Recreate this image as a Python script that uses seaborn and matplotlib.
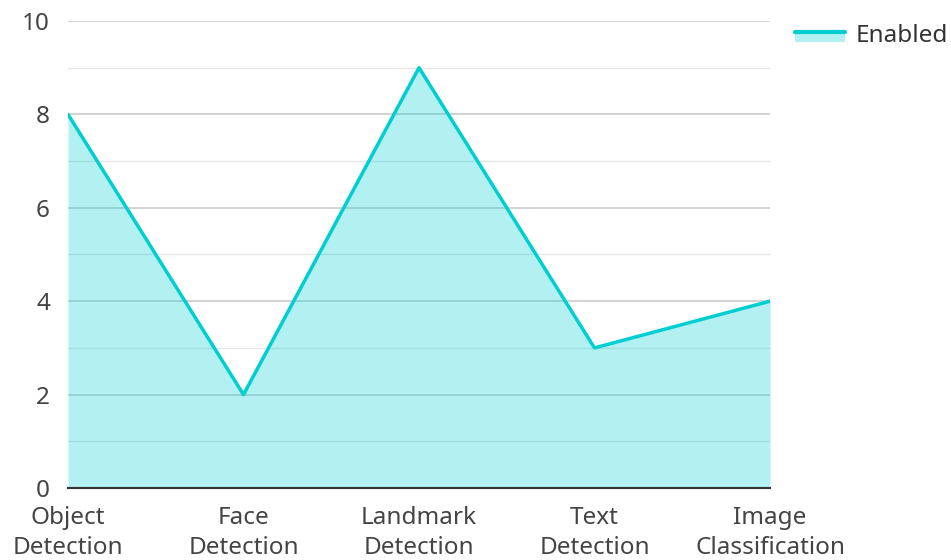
import matplotlib
matplotlib.use("Agg")
import matplotlib.pyplot as plt
import seaborn as sns
import pandas as pd
from matplotlib.patches import Rectangle
from matplotlib.lines import Line2D
from matplotlib.ticker import MultipleLocator

categories = ["Object Detection", "Face Detection", "Landmark Detection",
              "Text Detection", "Image Classification"]
enabled = [8, 2, 9, 3, 4]

line_color = "#00CED1"
fill_alpha = 0.3
font_size = 17.5

sns.set_theme(style="white")
plt.rcParams["font.family"] = ["Noto Sans", "DejaVu Sans"]


class AreaHandle:
    """legend key: translucent box with the line on its top edge"""
    def legend_artist(self, legend, orig_handle, fontsize, handlebox):
        x0, y0 = handlebox.xdescent, handlebox.ydescent
        w, h = handlebox.width, handlebox.height
        tr = handlebox.get_transform()
        top = y0 + h * 0.35
        rect = Rectangle((x0, top - 7.5), w, 7.5, facecolor=line_color,
                         alpha=fill_alpha, edgecolor="none", transform=tr)
        ln = Line2D([x0, x0 + w], [top, top], color=line_color, lw=3,
                    transform=tr)
        handlebox.add_artist(rect)
        handlebox.add_artist(ln)
        return rect


df = pd.DataFrame({"pos": range(len(categories)), "value": enabled})

fig = plt.figure(figsize=(9.51, 5.60), dpi=100)
ax = fig.add_axes([0.0715, 0.1286, 0.7382, 0.8339])

ax.fill_between(df["pos"], df["value"], 0, color=line_color, alpha=fill_alpha,
                lw=0, zorder=2)
sns.lineplot(data=df, x="pos", y="value", color=line_color, lw=2.5, ax=ax,
             zorder=3)

ax.set_xlim(0, len(categories) - 1)
ax.set_ylim(0, 10)
ax.yaxis.set_major_locator(MultipleLocator(2))
ax.yaxis.set_minor_locator(MultipleLocator(1))
ax.set_axisbelow(True)
ax.grid(which="major", axis="y", color="#cccccc", lw=1.2)
ax.grid(which="minor", axis="y", color="#e6e6e6", lw=1)

ax.set_xticks(df["pos"])
ax.set_xticklabels([c.replace(" ", "\n") for c in categories],
                   linespacing=1.35)
ax.tick_params(axis="both", which="both", length=0, labelsize=font_size,
               colors="#444444")
ax.tick_params(axis="x", pad=13)
ax.tick_params(axis="y", pad=13)
ax.set_xlabel("")
ax.set_ylabel("")

for side in ["left", "right", "top"]:
    ax.spines[side].set_visible(False)
ax.spines["bottom"].set_color("#333333")
ax.spines["bottom"].set_linewidth(1.5)
ax.spines["bottom"].set_zorder(4)

fig.legend(handles=[object()], labels=["Enabled"], handler_map={object: AreaHandle()},
           loc="upper left", bbox_to_anchor=(795 / 951, 1 - 23 / 560),
           frameon=False, fontsize=font_size, handlelength=2.06,
           handleheight=1.0, handletextpad=0.42, labelcolor="#333333",
           borderpad=0, borderaxespad=0)

fig.savefig("out.png", dpi=100)
